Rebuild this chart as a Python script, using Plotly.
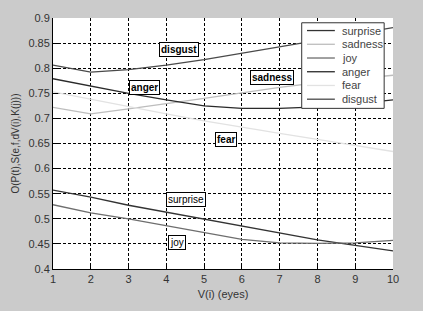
import plotly.graph_objects as go

x_vals = [1, 2, 3, 4, 5, 6, 7, 8, 9, 10]

surprise = [0.557, 0.543, 0.527, 0.513, 0.500, 0.486, 0.472, 0.458, 0.447, 0.436]
sadness  = [0.722, 0.709, 0.719, 0.729, 0.740, 0.751, 0.762, 0.771, 0.779, 0.786]
joy      = [0.528, 0.512, 0.500, 0.486, 0.472, 0.459, 0.452, 0.451, 0.452, 0.457]
anger    = [0.779, 0.764, 0.750, 0.737, 0.725, 0.720, 0.720, 0.723, 0.729, 0.737]
fear     = [0.753, 0.738, 0.723, 0.709, 0.695, 0.682, 0.670, 0.658, 0.646, 0.634]
disgust  = [0.806, 0.792, 0.797, 0.806, 0.817, 0.830, 0.843, 0.856, 0.868, 0.881]

series_names = ["surprise", "sadness", "joy", "anger", "fear", "disgust"]
series_vals = [surprise, sadness, joy, anger, fear, disgust]
series_colors = ["#333333", "#bdbdbd", "#6e6e6e", "#2a2a2a", "#e2e2e2", "#4a4a4a"]

label_text = ["disgust", "anger", "sadness", "fear", "surprise", "joy"]
label_x = [4.33, 3.43, 6.79, 5.59, 4.53, 4.29]
label_y = [0.837, 0.762, 0.782, 0.658, 0.539, 0.453]
label_bold = [True, True, True, True, False, False]

x_ticks = [1, 2, 3, 4, 5, 6, 7, 8, 9, 10]
y_ticks = [0.4, 0.45, 0.5, 0.55, 0.6, 0.65, 0.7, 0.75, 0.8, 0.85, 0.9]
y_tick_text = ["0.4", "0.45", "0.5", "0.55", "0.6", "0.65", "0.7", "0.75", "0.8", "0.85", "0.9"]

fig = go.Figure()
for name, vals, col in zip(series_names, series_vals, series_colors):
    fig.add_trace(go.Scatter(x=x_vals, y=vals, mode="lines", name=name,
                             line=dict(color=col, width=1.3)))

for t, lx, ly, b in zip(label_text, label_x, label_y, label_bold):
    fig.add_annotation(x=lx, y=ly, text=("<b>%s</b>" % t) if b else t, showarrow=False,
                       font=dict(family="Liberation Sans, Arial", size=10, color="#000000"),
                       bgcolor="#ffffff", bordercolor="#000000", borderwidth=1, borderpad=1)

# Compact MATLAB-style legend box (paper coordinates)
leg_x0, leg_x1, leg_y0, leg_y1 = 0.7315, 0.974, 0.640, 0.981
fig.add_shape(type="rect", xref="paper", yref="paper", x0=leg_x0, x1=leg_x1, y0=leg_y0, y1=leg_y1,
              fillcolor="#ffffff", line=dict(color="#333333", width=1), layer="above")
row_top, row_step = 0.950, 0.0547
for i, (name, col) in enumerate(zip(series_names, series_colors)):
    ry = row_top - i * row_step
    fig.add_shape(type="line", xref="paper", yref="paper", x0=0.747, x1=0.829, y0=ry, y1=ry,
                  line=dict(color=col, width=1.3), layer="above")
    fig.add_annotation(xref="paper", yref="paper", x=0.845, y=ry, text=name, showarrow=False,
                       xanchor="left", yanchor="middle",
                       font=dict(family="Liberation Sans, Arial", size=11, color="#444444"))

fig.update_layout(
    width=423, height=311,
    margin=dict(l=53, r=30, t=14, b=32),
    paper_bgcolor="#cbcbcb",
    plot_bgcolor="#ffffff",
    font=dict(family="Liberation Sans, Arial", size=11, color="#333333"),
    showlegend=False,
    xaxis=dict(range=[1, 10], tickvals=x_ticks, ticks="inside", ticklen=5,
               tickcolor="#000000", showline=True, linecolor="#000000", linewidth=1,
               showgrid=True, gridcolor="#000000", griddash="3px,2px", gridwidth=1,
               zeroline=False, title=dict(text="V(i) (eyes)", standoff=6,
                                          font=dict(size=11, color="#333333"))),
    yaxis=dict(range=[0.4, 0.9], tickvals=y_ticks, ticktext=y_tick_text,
               ticks="inside", ticklen=5,
               tickcolor="#000000", showline=True, linecolor="#000000", linewidth=1,
               showgrid=True, gridcolor="#000000", griddash="3px,2px", gridwidth=1,
               zeroline=False, title=dict(text="O(P(t),S(e,f,dV(i),K(j)))", standoff=6,
                                          font=dict(size=10, color="#333333"))),
)

fig.write_html("out.html")
